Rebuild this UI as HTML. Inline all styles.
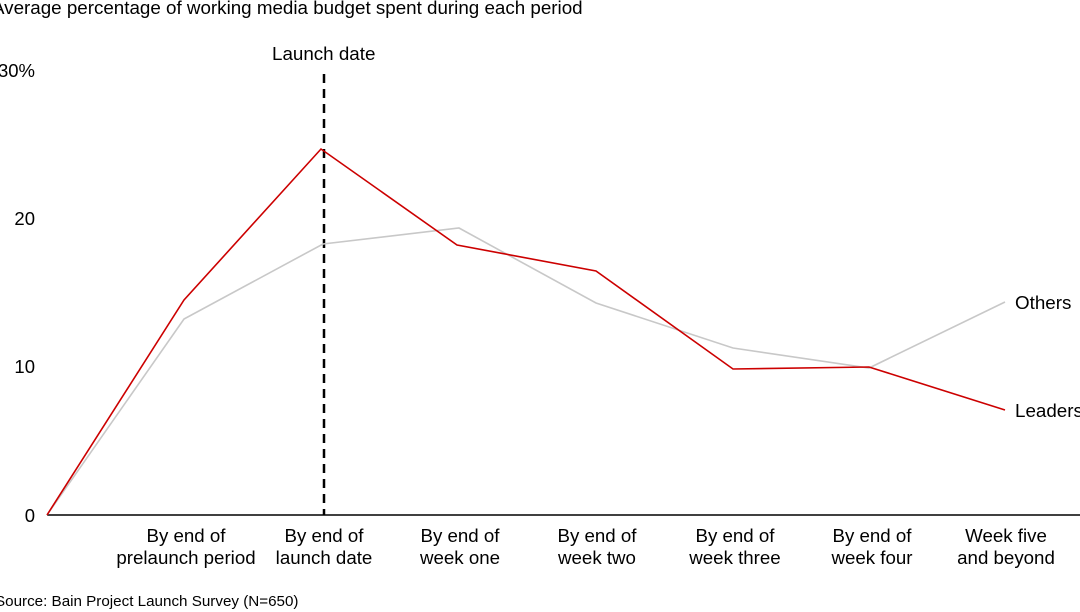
<!DOCTYPE html>
<html><head><meta charset="utf-8"><style>
html,body{margin:0;padding:0;background:#fff;width:1080px;height:612px;overflow:hidden}
svg{display:block;font-family:"Liberation Sans",Arial,sans-serif}
</style></head><body>
<svg width="1080" height="612" viewBox="0 0 1080 612">
<text x="-8" y="14" font-size="18.8" fill="#000">Average percentage of working media budget spent during each period</text>
<text x="272" y="60" font-size="18.8" fill="#000">Launch date</text>
<g font-size="18.5" fill="#000" text-anchor="end">
<text x="35" y="77">30%</text>
<text x="35" y="225">20</text>
<text x="35" y="373">10</text>
<text x="35" y="522">0</text>
</g>
<line x1="47" y1="515" x2="1080" y2="515" stroke="#000" stroke-width="1.5"/>
<line x1="324" y1="74" x2="324" y2="515" stroke="#000" stroke-width="2.5" stroke-dasharray="9,6"/>
<polyline fill="none" stroke="#c8c8c8" stroke-width="1.6" points="47,515 184,319 323,244 459,228 596,303 733,348 869,368 1005,302"/>
<polyline fill="none" stroke="#cc0000" stroke-width="1.6" points="47,515 184,300 321,149 457,245 596,271 733,369 869,367 1005,410"/>
<text x="1015" y="309" font-size="18.8">Others</text>
<text x="1015" y="417" font-size="18.8">Leaders</text>
<g font-size="18.7" fill="#000" text-anchor="middle">
<text x="186" y="542">By end of</text><text x="186" y="564">prelaunch period</text>
<text x="324" y="542">By end of</text><text x="324" y="564">launch date</text>
<text x="460" y="542">By end of</text><text x="460" y="564">week one</text>
<text x="597" y="542">By end of</text><text x="597" y="564">week two</text>
<text x="735" y="542">By end of</text><text x="735" y="564">week three</text>
<text x="872" y="542">By end of</text><text x="872" y="564">week four</text>
<text x="1006" y="542">Week five</text><text x="1006" y="564">and beyond</text>
</g>
<text x="-5" y="606" font-size="15.2" fill="#000">Source: Bain Project Launch Survey (N=650)</text>
</svg>
</body></html>
